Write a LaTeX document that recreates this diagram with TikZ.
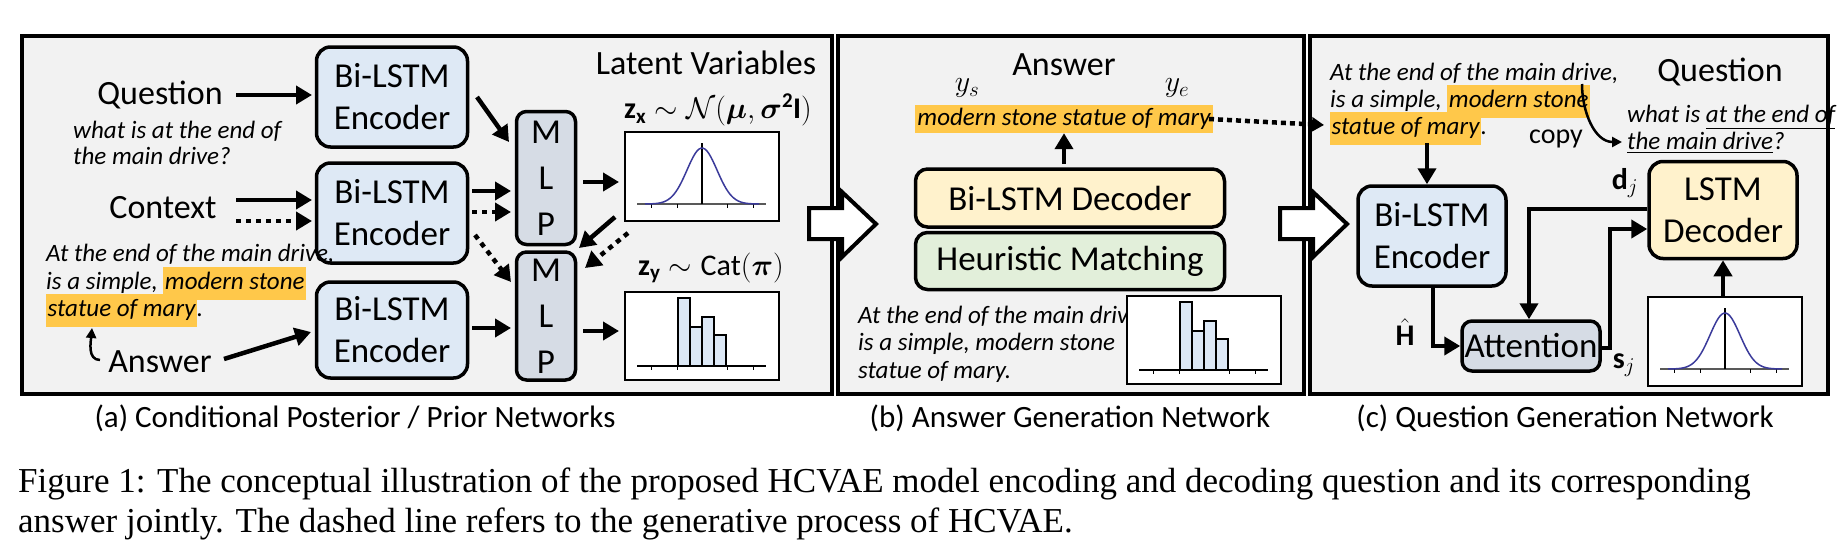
\documentclass[tikz,border=0pt]{standalone}
\usepackage{fix-cm}
\usepackage{amsmath,bm}
\usepackage{fontspec}
\setmainfont{Carlito}
\newfontfamily\capfont{Liberation Serif}
\usetikzlibrary{arrows.meta}
\definecolor{panelbg}{HTML}{F2F2F2}
\definecolor{encblue}{HTML}{DEE9F5}
\definecolor{mlpgray}{HTML}{D6DCE5}
\definecolor{decyel}{HTML}{FFF2CC}
\definecolor{heugreen}{HTML}{E2EFDA}
\definecolor{hl}{HTML}{FFC84A}
\definecolor{histblue}{HTML}{DCE8F6}
\definecolor{curve}{HTML}{3A3A9A}
\newcommand{\hlt}[1]{{\setlength{\fboxsep}{1.5pt}\colorbox{hl}{\strut #1}}}
\tikzset{
  panel/.style={draw, line width=4pt, fill=panelbg},
  blk/.style={draw, line width=3.5pt, rounded corners=14pt, align=center, font=\fontsize{35}{42}\selectfont, inner sep=0pt},
  arr/.style={line width=4.5pt, -{Triangle[length=16pt,width=18pt]}},
  darr/.style={line width=4.5pt, dash pattern=on 5pt off 5pt, -{Triangle[length=16pt,width=18pt]}},
  lbl/.style={font=\fontsize{34}{40}\selectfont, inner sep=0pt},
  itl/.style={font=\fontsize{25}{30}\selectfont\itshape, inner sep=0pt, anchor=base west},
  mth/.style={font=\fontsize{30}{36}\selectfont, inner sep=0pt},
  captxt/.style={font=\fontsize{31}{36}\selectfont, inner sep=0pt},
  plotbox/.style={draw, line width=2pt, fill=white},
  bigarr/.style={draw, line width=4pt, fill=white, line join=miter}
}
\newcommand{\gausspic}[2]{%
  \begin{scope}[shift={(#1,#2)}]
    \draw[plotbox] (0,0) rectangle (154,89);
    \draw[line width=1.2pt, gray!70!black] (12,72) -- (141,72);
    \foreach \t in {26,52,102,128}{\draw[line width=1pt] (\t,72) -- (\t,76);}
    \draw[line width=1.2pt] (77,11) -- (77,72);
    \draw[curve, line width=1.5pt, domain=20:134, samples=60] plot (\x,{72-56*exp(-((\x-77)/15)^2/2)});
  \end{scope}}
\newcommand{\histpic}[2]{%
  \begin{scope}[shift={(#1,#2)}]
    \draw[plotbox] (0,0) rectangle (154,88);
    \foreach \a/\b/\h in {53/65/6,65/77/35,77/89/25,89/101/43}{
      \draw[fill=histblue, line width=1.5pt] (\a,74) rectangle (\b,\h);}
    \draw[line width=1.5pt] (12,74) -- (141,74);
    \foreach \t in {26,52,102,128}{\draw[line width=1pt] (\t,74) -- (\t,78);}
  \end{scope}}
\begin{document}
\begin{tikzpicture}[x=1pt,y=-1pt]
\useasboundingbox (0,0) rectangle (1848,552);
% panels
\draw[panel] (22,36) rectangle (832,394);
\draw[panel] (838,36) rectangle (1304,394);
\draw[panel] (1310,36) rectangle (1828,394);

% ---------- panel (a)
\node[blk, fill=encblue, minimum width=151pt, minimum height=100pt] (e1) at (392,97) {Bi-LSTM\\Encoder};
\node[blk, fill=encblue, minimum width=151pt, minimum height=100pt] (e2) at (392,213) {Bi-LSTM\\Encoder};
\node[blk, fill=encblue, minimum width=151pt, minimum height=96pt] (e3) at (392,330) {Bi-LSTM\\Encoder};
\node[blk, fill=mlpgray, rounded corners=10pt, minimum width=59pt, minimum height=133pt] (m1) at (546,178) {M\\[4pt]L\\[4pt]P};
\node[blk, fill=mlpgray, rounded corners=10pt, minimum width=59pt, minimum height=128pt] (m2) at (546,316) {M\\[4pt]L\\[4pt]P};

\node[lbl] (q) at (160,95) {Question};
\node[itl] (q1) at (73,138) {what is at the end of};
\node[itl] (q2) at (73,164) {the main drive?};
\node[lbl] (c) at (163,208) {Context};
\node[itl] (c1) at (46,261) {At the end of the main drive,};
\node[itl] (c2) at (46,289) {is a simple, \hlt{modern stone}};
\node[itl] (c3) at (46,316) {\hlt{statue of mary}.};
\node[lbl] (an) at (160,362) {Answer};

\node[lbl] (lv) at (706,63) {Latent Variables};
\node[mth] (zx) at (718,110) {$\mathbf{z_x}\sim\mathcal{N}(\bm{\mu},\bm{\sigma}^{\mathbf{2}}\mathbf{I})$};
\node[mth] (zy) at (711,268) {$\mathbf{z_y}\sim\mathrm{Cat}(\bm{\pi})$};
\gausspic{625}{132}
\histpic{625}{292}

\coordinate (qa) at (236,95); \coordinate (qb) at (312,95);
\draw[arr] (qa) -- (qb);
\draw[arr] (477,97) -- (509,142);
\draw[arr] (236,200) -- (312,200);
\draw[darr] (236,221) -- (312,221);
\draw[arr] (472,191) -- (511,191);
\draw[darr] (472,212) -- (511,212);
\draw[darr] (475,235) -- (511,282);
\draw[arr] (224,359) -- (311,332);
\draw[line width=2.5pt, -{Triangle[length=10pt,width=10pt]}] (100,360) to[out=180,in=-95] (92,328);
\draw[arr] (472,328) -- (511,328);
\draw[arr] (583,182) -- (619,182);
\draw[arr] (583,331) -- (619,331);
\draw[arr] (615,217) -- (579,248);
\draw[darr] (628,233) -- (585,268);

% big arrows
\draw[bigarr] (809,208) -- (842,208) -- (842,192) -- (876,224) -- (842,257) -- (842,239) -- (809,239) -- cycle;
\draw[bigarr] (1280,208) -- (1313,208) -- (1313,192) -- (1347,224) -- (1313,257) -- (1313,239) -- (1280,239) -- cycle;

% ---------- panel (b)
\node[lbl] (at) at (1064,65) {Answer};
\node[mth] (ys) at (967,88) {$y_s$};
\node[mth] (ye) at (1177,88) {$y_e$};
\node[font=\fontsize{25}{30}\selectfont\itshape, fill=hl, inner sep=2pt, minimum width=265pt, minimum height=28pt] (ans) at (1064,119) {modern stone statue of mary};
\node[blk, fill=decyel, minimum width=309pt, minimum height=58pt, rounded corners=12pt] (dec) at (1070,198) {Bi-LSTM Decoder};
\node[blk, fill=heugreen, minimum width=309pt, minimum height=57pt, rounded corners=12pt] (heu) at (1070,261) {Heuristic Matching};
\draw[arr] (1064,164) -- (ans.south);
\node[itl] (b1) at (858,323) {At the end of the main drive,};
\node[itl] (b2) at (858,350) {is a simple, modern stone};
\node[itl] (b3) at (858,378) {statue of mary.};
\histpic{1127}{296}

% ---------- panel (c)
\node[itl] (t1) at (1330,80) {At the end of the main drive,};
\node[itl] (t2) at (1330,107) {is a simple, \hlt{modern stone}};
\node[itl] (t3) at (1330,134) {\hlt{statue of mary}.};
\coordinate (src) at (1209,119);
\coordinate (tgt) at (1324,125);
\draw[line width=4.5pt, dash pattern=on 5pt off 4pt, -{Triangle[length=12pt,width=14pt]}] (src) -- (tgt);
\node[lbl] (qt) at (1720,72) {Question};
\node[itl] (w1) at (1627,122) {what is \underline{at the end of}};
\node[itl] (w2) at (1627,149) {\underline{the main drive}?};
\node[font=\fontsize{28}{32}\selectfont, inner sep=0pt] (cp) at (1556,139) {copy};
\draw[line width=2.5pt, -{Triangle[length=10pt,width=10pt]}] (1582,84) to[out=-90,in=180] (1622,142);

\node[blk, fill=encblue, minimum width=148pt, minimum height=100pt] (enc) at (1432,236) {Bi-LSTM\\Encoder};
\node[blk, fill=decyel, minimum width=148pt, minimum height=97pt] (ld) at (1723,210) {LSTM\\Decoder};
\node[blk, fill=mlpgray, rounded corners=10pt, minimum width=138pt, minimum height=50pt] (att) at (1531,346) {Attention};
\gausspic{1648}{297}
\coordinate (tdown) at (1427,143);
\coordinate (gtop) at (1723,297);
\draw[arr] (tdown) -- (tdown |- enc.north);
\draw[arr] ([xshift=1pt]enc.south) |- (att.west);
\draw[arr] (ld.west |- 0,209) -| (att.north -| 1529,0);
\draw[arr] (att.east |- 0,348) -- (1610,348) |- (ld.west |- 0,229);
\draw[arr] (gtop) -- (ld.south);
\node[mth] (dj) at (1625,183) {$\mathbf{d}_j$};
\node[mth] (hh) at (1405,332) {$\hat{\mathbf{H}}$};
\node[mth] (sj) at (1624,365) {$\mathbf{s}_j$};

% ---------- captions
\node[captxt] (ca) at (355,418) {(a) Conditional Posterior / Prior Networks};
\node[captxt] (cb) at (1070,418) {(b) Answer Generation Network};
\node[captxt] (cc) at (1565,418) {(c) Question Generation Network};
\node[font=\capfont\fontsize{35}{40}\selectfont, inner sep=0pt, anchor=base west] (f1) at (18,492) {Figure 1: The conceptual illustration of the proposed HCVAE model encoding and decoding question and its corresponding};
\node[font=\capfont\fontsize{35}{40}\selectfont, inner sep=0pt, anchor=base west] (f2) at (18,532) {answer jointly. The dashed line refers to the generative process of HCVAE.};
\end{tikzpicture}
\end{document}
